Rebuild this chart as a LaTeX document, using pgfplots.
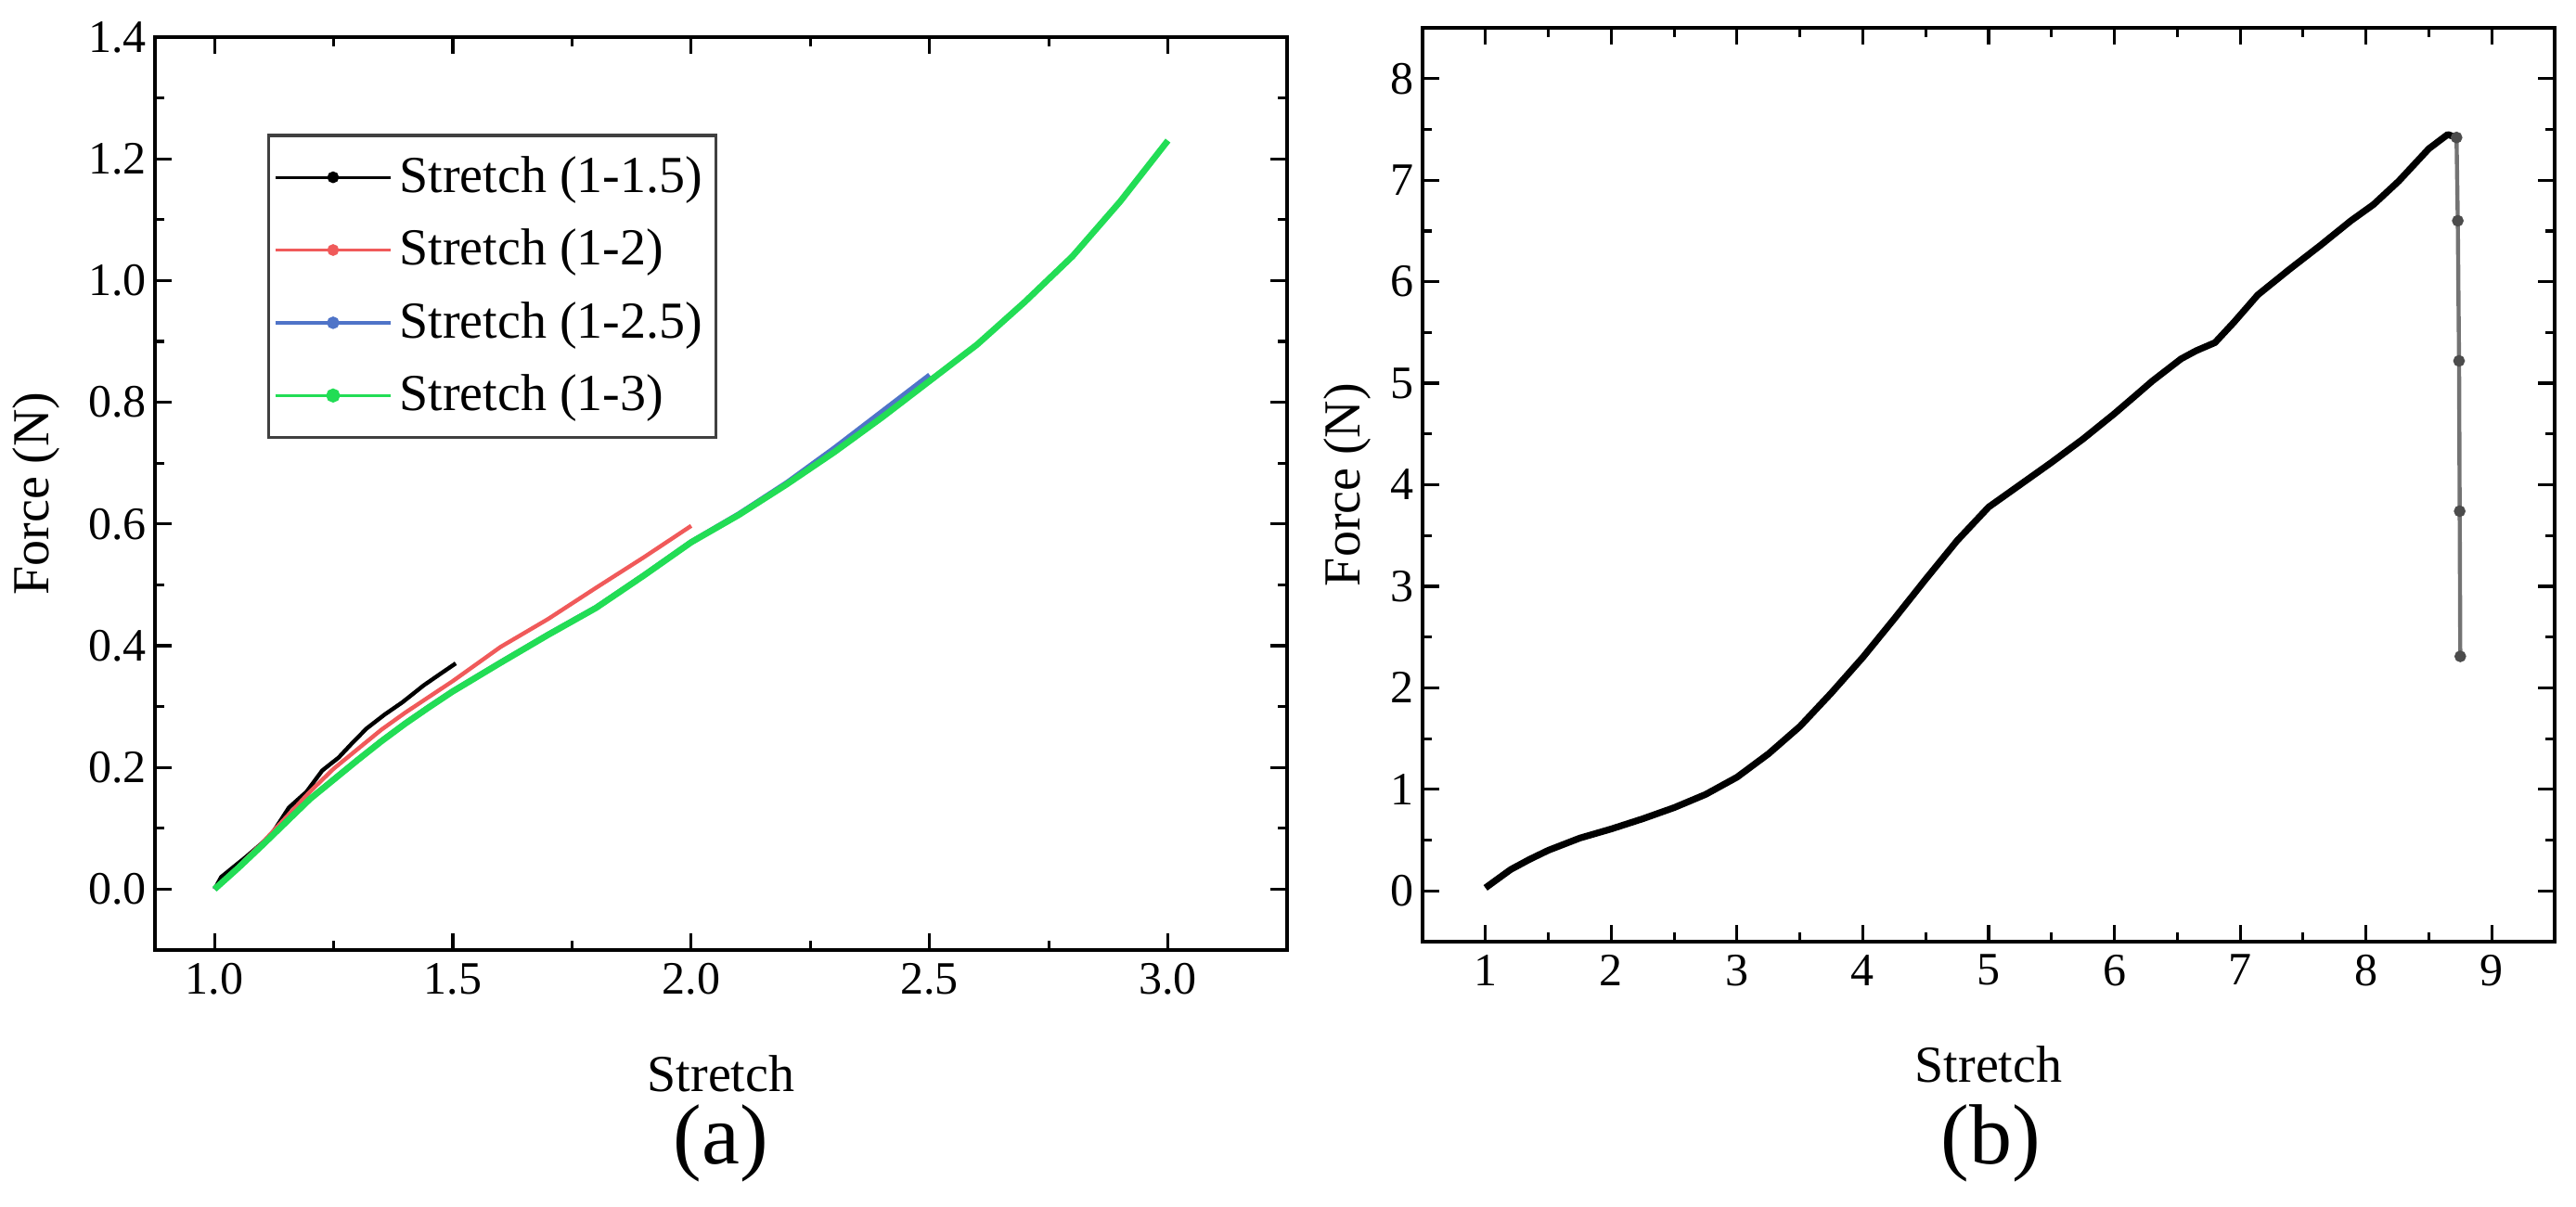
\documentclass[border=0pt]{standalone}
\usepackage{fontspec}
\setmainfont{Liberation Serif}
\usepackage{pgfplots}
\pgfplotsset{compat=1.18}

\definecolor{curveRed}{HTML}{F05A5A}
\definecolor{curveBlue}{HTML}{4F74C8}
\definecolor{curveGreen}{HTML}{22DD55}

\pgfplotsset{
  originbox/.style={
    scale only axis,
    anchor=south west,
    axis line style={line width=0.9pt},
    tick style={line width=0.8pt, black},
    major tick length=4.5pt,
    minor tick length=2.5pt,
    tick align=inside,
    minor x tick num=1,
    minor y tick num=1,
    ticklabel style={font=\fontsize{12.5}{14}\selectfont},
    yticklabel style={xshift=1.2pt},
    /pgf/number format/assume math mode=true,
    xlabel={Stretch},
    ylabel={Force (N)},
  },
}

\begin{document}
\begin{tikzpicture}
\path (0pt,0pt) rectangle (694pt,325pt);

% (a) force-stretch curves for four stretch ranges
\begin{axis}[originbox,
  at={(41.75pt,69pt)}, width=305pt, height=246pt,
  xmin=0.875, xmax=3.25, ymin=-0.1, ymax=1.4,
  xtick={1,1.5,2,2.5,3},
  ytick={0,0.2,0.4,0.6,0.8,1.0,1.2,1.4},
  xticklabel style={/pgf/number format/.cd, fixed, fixed zerofill, precision=1},
  yticklabel style={/pgf/number format/.cd, fixed, fixed zerofill, precision=1},
  xlabel style={at={(axis description cs:0.5,-0.135)}, anchor=center,
    font=\fontsize{14}{16}\selectfont},
  ylabel style={at={(axis description cs:-0.105,0.5)}, anchor=center,
    font=\fontsize{14}{16}\selectfont},
  legend style={at={(axis description cs:0.099,0.894)}, anchor=north west,
    draw=black!75, line width=0.8pt, inner xsep=1.5pt, inner ysep=1.5pt,
    font=\fontsize{14}{16}\selectfont,
    nodes={minimum height=19.6pt, inner ysep=0pt}},
  legend cell align=left,
  legend image code/.code={
    \draw[#1, line width=0.8pt] (0pt,0pt) -- (31pt,0pt);
    \fill[#1] (15.5pt,0pt) circle (1pt);
  },
]
\addplot[black, line width=1.1pt] coordinates {
  (1.000,0.000) (1.014,0.020) (1.066,0.053) (1.118,0.088) (1.156,0.134)
  (1.193,0.160) (1.226,0.195) (1.260,0.216) (1.290,0.241) (1.319,0.264)
  (1.357,0.287) (1.394,0.307) (1.439,0.335) (1.476,0.355) (1.506,0.371)
};
\addlegendentry{Stretch (1-1.5)}
\addplot[curveRed, line width=1.1pt] coordinates {
  (1.00,0.000) (1.05,0.037) (1.10,0.076) (1.15,0.118) (1.20,0.160)
  (1.25,0.198) (1.30,0.230) (1.35,0.262) (1.40,0.290) (1.45,0.316)
  (1.50,0.342) (1.60,0.398) (1.70,0.444) (1.80,0.495) (1.90,0.545)
  (2.00,0.597)
};
\addlegendentry{Stretch (1-2)}
\addplot[curveBlue, line width=1.3pt] coordinates {
  (1.00,0.000) (1.05,0.036) (1.10,0.073) (1.15,0.111) (1.20,0.149)
  (1.25,0.181) (1.30,0.213) (1.35,0.244) (1.40,0.273) (1.45,0.300)
  (1.50,0.326) (1.60,0.373) (1.70,0.419) (1.80,0.463) (1.90,0.516)
  (2.00,0.571) (2.10,0.617) (2.20,0.668) (2.30,0.725) (2.40,0.785)
  (2.50,0.845)
};
\addlegendentry{Stretch (1-2.5)}
\addplot[curveGreen, line width=1.7pt] coordinates {
  (1.00,0.000) (1.05,0.035) (1.10,0.072) (1.15,0.110) (1.20,0.148)
  (1.25,0.180) (1.30,0.212) (1.35,0.243) (1.40,0.272) (1.45,0.299)
  (1.50,0.325) (1.60,0.372) (1.70,0.418) (1.80,0.462) (1.90,0.515)
  (2.00,0.570) (2.10,0.615) (2.20,0.665) (2.30,0.718) (2.40,0.775)
  (2.50,0.835) (2.60,0.895) (2.70,0.965) (2.80,1.040) (2.90,1.130)
  (3.00,1.230)
};
\addlegendentry{Stretch (1-3)}
\end{axis}

% (b) stretch to failure
\begin{axis}[originbox,
  at={(383.25pt,71.25pt)}, width=305pt, height=246.25pt,
  xmin=0.5, xmax=9.5, ymin=-0.5, ymax=8.5,
  xtick={1,2,3,4,5,6,7,8,9},
  ytick={0,1,2,3,4,5,6,7,8},
  xlabel style={at={(axis description cs:0.5,-0.134)}, anchor=center,
    font=\fontsize{14}{16}\selectfont},
  ylabel style={at={(axis description cs:-0.066,0.5)}, anchor=center,
    font=\fontsize{14}{16}\selectfont},
]
\addplot[black, line width=1.8pt, line join=round] coordinates {
  (1.00,0.03) (1.10,0.12) (1.20,0.21) (1.35,0.31) (1.50,0.40)
  (1.75,0.52) (2.00,0.61) (2.25,0.71) (2.50,0.82) (2.75,0.95)
  (3.00,1.12) (3.25,1.35) (3.50,1.62) (3.75,1.95) (4.00,2.30)
  (4.25,2.68) (4.50,3.07) (4.75,3.45) (5.00,3.78) (5.25,4.00)
  (5.50,4.22) (5.75,4.45) (6.00,4.70) (6.16,4.87) (6.30,5.02)
  (6.53,5.24) (6.65,5.32) (6.80,5.40) (6.95,5.60) (7.14,5.87)
  (7.39,6.12) (7.64,6.36) (7.88,6.60) (8.06,6.76) (8.26,6.99)
  (8.50,7.31) (8.65,7.45) (8.72,7.42)
};
\addplot[black!55, line width=1.1pt, mark=*, mark size=1pt,
  mark options={fill=black!70, draw=black!70}] coordinates {
  (8.72,7.42) (8.73,6.60) (8.74,5.22) (8.745,3.74) (8.75,2.31)
};
\end{axis}

\node at (194.25pt,17pt) {\fontsize{23}{26}\selectfont (a)};
\node at (536.25pt,17pt) {\fontsize{23}{26}\selectfont (b)};
\end{tikzpicture}
\end{document}
